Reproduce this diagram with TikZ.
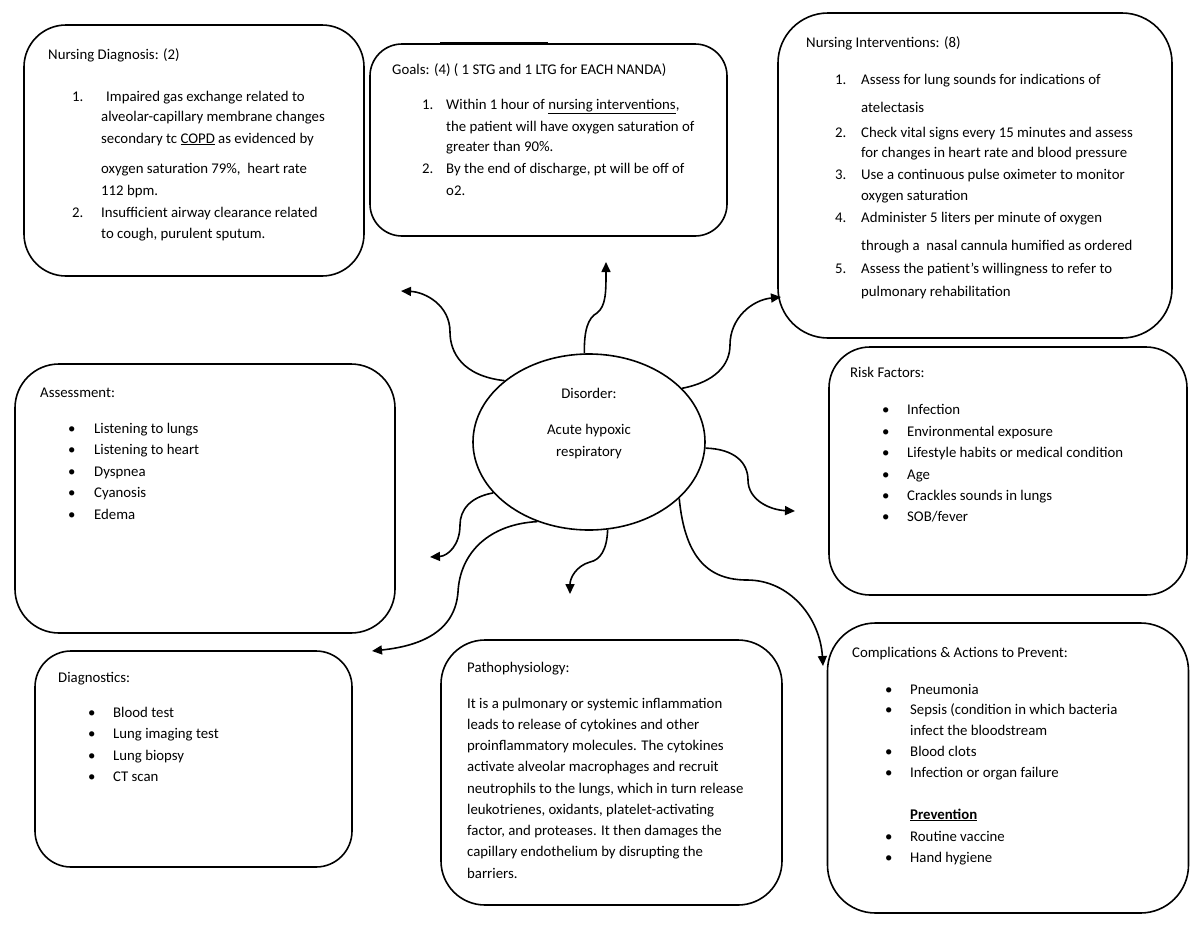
\documentclass[tikz,border=0pt]{standalone}
\usepackage{fontspec}
\setmainfont{Carlito}
\usetikzlibrary{shapes.geometric,arrows.meta}
\newcommand\mmtx[4]{\node[txt] (#1) at (#2,#3) {#4};}
\newcommand\mlab[2]{\makebox[#1pt][l]{#2}}
\tikzset{
  box/.style={draw, line width=1.6pt, rounded corners=#1, inner sep=0pt},
  txt/.style={anchor=base west, inner sep=0pt, font=\fontsize{14.8}{17}\selectfont},
  ctxt/.style={anchor=base, inner sep=0pt, font=\fontsize{14.8}{17}\selectfont},
  arr/.style={line width=1.6pt, -{Triangle[length=10pt,width=9pt]}},
}
\begin{document}
\begin{tikzpicture}[x=1pt,y=-1pt]
\useasboundingbox[fill=white] (0,0) rectangle (1200,927);
% boxes
\node[box=42pt, minimum width=340pt, minimum height=251pt] (ndbox) at (194,150.5) {};
\node[box=32pt, minimum width=357pt, minimum height=192pt] (gbox) at (548.5,140) {};
\draw[line width=2.6pt] (440,43.5) -- (548,43.5);
\node[box=50pt, minimum width=394pt, minimum height=325pt] (nibox) at (975,175.5) {};
\node[box=44pt, minimum width=380pt, minimum height=269pt] (abox) at (205,498.5) {};
\node[box=41pt, minimum width=358pt, minimum height=248pt] (rbox) at (1008,471) {};
\node[box=36pt, minimum width=317pt, minimum height=216pt] (dbox) at (193.5,759) {};
\node[box=44pt, minimum width=341pt, minimum height=265pt] (pbox) at (611.5,772.5) {};
\node[box=48pt, minimum width=361pt, minimum height=290pt] (cbox) at (1008,768) {};
% ellipse
\node[draw, ellipse, line width=1.6pt, minimum width=232pt, minimum height=176pt, inner sep=0pt] (dis) at (589,442) {};
\node[ctxt] (dis1) at (589,398) {Disorder:};
\node[ctxt] (dis2) at (589,434) {Acute hypoxic};
\node[ctxt] (dis3) at (589,456) {respiratory};
% arrow ends
\coordinate (tND) at (401,291);
\coordinate (tG) at (606,262);
\coordinate (tNI) at (781,297);
\coordinate (tRF) at (795,511);
\coordinate (tCA) at (823,666);
\coordinate (tPP) at (570,594);
\coordinate (tAS) at (430,557);
\coordinate (tDG) at (372,651);
\coordinate (mND) at (450,332);
\coordinate (mG) at (597,313);
\coordinate (mNI) at (730,345);
\coordinate (mRF) at (748,480);
\coordinate (mCA) at (747,580);
\coordinate (mPP) at (590,562);
\coordinate (mAS) at (460,525);
\coordinate (mDG) at (458,592);
\draw[arr] (dis.144) .. controls (462,376) and (450,352) .. (mND) .. controls (450,305) and (425,292) .. (tND);
\draw[arr] (dis.93) .. controls (584,330) and (588,318) .. (mG) .. controls (606,306) and (606,292) .. (tG);
\draw[arr] (dis.30) .. controls (715,382) and (730,365) .. (mNI) .. controls (730,318) and (752,300) .. (tNI);
\draw[arr] (dis.-3) .. controls (735,449) and (748,463) .. (mRF) .. controls (748,500) and (770,510) .. (tRF);
\draw[arr] (dis.-32) .. controls (685,560) and (710,580) .. (mCA) .. controls (790,580) and (820,618) .. (tCA);
\draw[arr] (dis.-78) .. controls (607,550) and (600,560) .. (mPP) .. controls (576,566) and (570,578) .. (tPP);
\draw[arr] (dis.208) .. controls (470,497) and (460,510) .. (mAS) .. controls (460,545) and (448,556) .. (tAS);
\draw[arr] (dis.237) .. controls (490,524) and (460,552) .. (mDG) .. controls (455,632) and (420,646) .. (tDG);
% Nursing diagnosis
\mmtx{nd0}{48}{59}{Nursing Diagnosis: (2)}
\mmtx{nd1}{72}{101}{\mlab{29}{1.}\hspace{5pt}Impaired gas exchange related to}
\mmtx{nd2}{101}{121}{alveolar-capillary membrane changes}
\mmtx{nd3}{101}{143}{secondary tc \underline{COPD} as evidenced by}
\mmtx{nd4}{101}{173}{oxygen saturation 79\%, \ heart rate}
\mmtx{nd5}{101}{195}{112 bpm.}
\mmtx{nd6}{72}{217}{\mlab{29}{2.}Insufficient airway clearance related}
\mmtx{nd7}{101}{238}{to cough, purulent sputum.}
% Goals
\mmtx{g0}{392}{74}{Goals: (4) ( 1 STG and 1 LTG for EACH NANDA)}
\mmtx{g1}{422}{109}{\mlab{24}{1.}Within 1 hour of \underline{nursing interventions},}
\mmtx{g2}{446}{131}{the patient will have oxygen saturation of}
\mmtx{g3}{446}{151}{greater than 90\%.}
\mmtx{g4}{422}{173}{\mlab{24}{2.}By the end of discharge, pt will be off of}
\mmtx{g5}{446}{195}{o2.}
% Nursing interventions
\mmtx{n0}{806}{47}{Nursing Interventions: (8)}
\mmtx{n1}{835}{84}{\mlab{26}{1.}Assess for lung sounds for indications of}
\mmtx{n2}{861}{112}{atelectasis}
\mmtx{n3}{835}{137}{\mlab{26}{2.}Check vital signs every 15 minutes and assess}
\mmtx{n4}{861}{157}{for changes in heart rate and blood pressure}
\mmtx{n5}{835}{179}{\mlab{26}{3.}Use a continuous pulse oximeter to monitor}
\mmtx{n6}{861}{200}{oxygen saturation}
\mmtx{n7}{835}{222}{\mlab{26}{4.}Administer 5 liters per minute of oxygen}
\mmtx{n8}{861}{250}{through a \ nasal cannula humified as ordered}
\mmtx{n9}{835}{273}{\mlab{26}{5.}Assess the patient’s willingness to refer to}
\mmtx{n10}{861}{296}{pulmonary rehabilitation}
% Assessment
\mmtx{a0}{40}{397}{Assessment:}
\mmtx{a1}{68}{433}{\mlab{26}{\textbullet}Listening to lungs}
\mmtx{a2}{68}{454}{\mlab{26}{\textbullet}Listening to heart}
\mmtx{a3}{68}{476}{\mlab{26}{\textbullet}Dyspnea}
\mmtx{a4}{68}{497}{\mlab{26}{\textbullet}Cyanosis}
\mmtx{a5}{68}{519}{\mlab{26}{\textbullet}Edema}
% Risk factors
\mmtx{r0}{850}{377}{Risk Factors:}
\mmtx{r1}{882}{414}{\mlab{25}{\textbullet}Infection}
\mmtx{r2}{882}{436}{\mlab{25}{\textbullet}Environmental exposure}
\mmtx{r3}{882}{457}{\mlab{25}{\textbullet}Lifestyle habits or medical condition}
\mmtx{r4}{882}{479}{\mlab{25}{\textbullet}Age}
\mmtx{r5}{882}{500}{\mlab{25}{\textbullet}Crackles sounds in lungs}
\mmtx{r6}{882}{521}{\mlab{25}{\textbullet}SOB/fever}
% Diagnostics
\mmtx{d0}{58}{682}{Diagnostics:}
\mmtx{d1}{88}{717}{\mlab{25}{\textbullet}Blood test}
\mmtx{d2}{88}{738}{\mlab{25}{\textbullet}Lung imaging test}
\mmtx{d3}{88}{760}{\mlab{25}{\textbullet}Lung biopsy}
\mmtx{d4}{88}{781}{\mlab{25}{\textbullet}CT scan}
% Pathophysiology
\mmtx{p0}{467}{672}{Pathophysiology:}
\mmtx{p1}{467}{708}{It is a pulmonary or systemic inflammation}
\mmtx{p2}{467}{729}{leads to release of cytokines and other}
\mmtx{p3}{467}{750}{proinflammatory molecules. The cytokines}
\mmtx{p4}{467}{771}{activate alveolar macrophages and recruit}
\mmtx{p5}{467}{793}{neutrophils to the lungs, which in turn release}
\mmtx{p6}{467}{814}{leukotrienes, oxidants, platelet-activating}
\mmtx{p7}{467}{835}{factor, and proteases. It then damages the}
\mmtx{p8}{467}{856}{capillary endothelium by disrupting the}
\mmtx{p9}{467}{878}{barriers.}
% Complications
\mmtx{c0}{852}{657}{Complications \& Actions to Prevent:}
\mmtx{c1}{885}{694}{\mlab{25}{\textbullet}Pneumonia}
\mmtx{c2}{885}{714}{\mlab{25}{\textbullet}Sepsis (condition in which bacteria}
\mmtx{c3}{910}{735}{infect the bloodstream}
\mmtx{c4}{885}{756}{\mlab{25}{\textbullet}Blood clots}
\mmtx{c5}{885}{777}{\mlab{25}{\textbullet}Infection or organ failure}
\mmtx{c6}{910}{819}{\textbf{\underline{Prevention}}}
\mmtx{c7}{885}{841}{\mlab{25}{\textbullet}Routine vaccine}
\mmtx{c8}{885}{862}{\mlab{25}{\textbullet}Hand hygiene}
\end{tikzpicture}
\end{document}
